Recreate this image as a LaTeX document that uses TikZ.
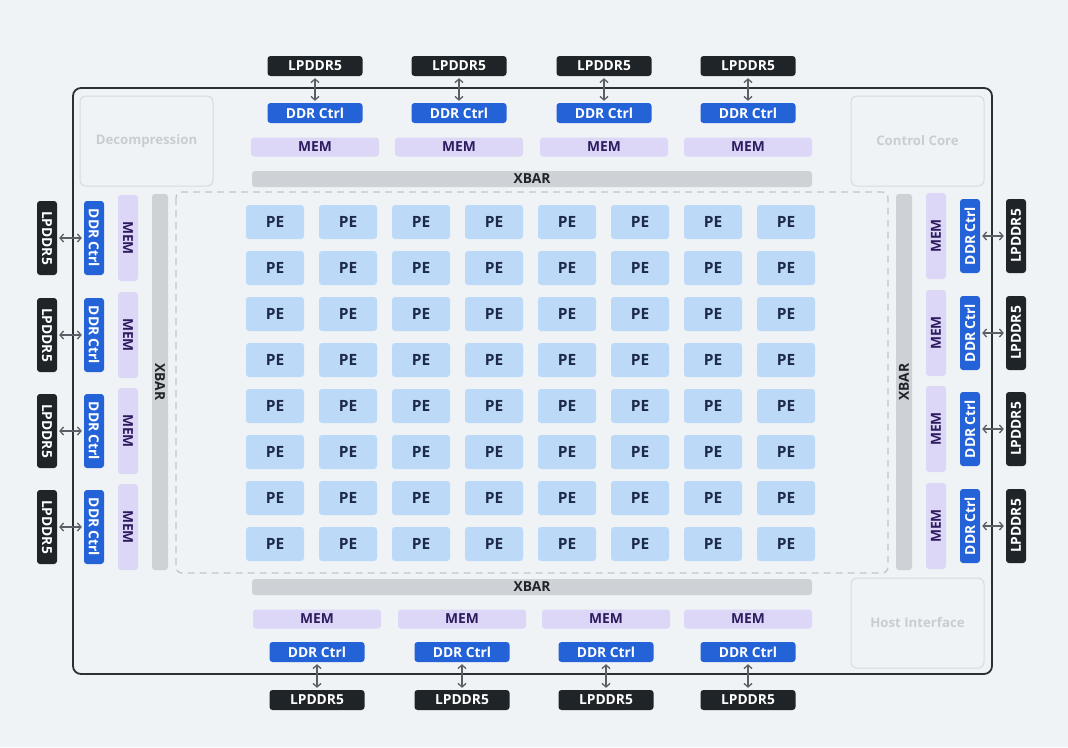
\documentclass[tikz,border=0pt]{standalone}
\usepackage{fontspec}
\setmainfont{Open Sans}
\usetikzlibrary{arrows.meta}
\definecolor{pagebg}{HTML}{F0F3F6}
\definecolor{chipline}{HTML}{2B3035}
\definecolor{lpdark}{HTML}{1F2428}
\definecolor{ddrblue}{HTML}{2462D8}
\definecolor{memfill}{HTML}{DCD7F7}
\definecolor{memtext}{HTML}{2E1A5E}
\definecolor{xbarfill}{HTML}{CED2D6}
\definecolor{pefill}{HTML}{BCDAF8}
\definecolor{petext}{HTML}{1E2A4A}
\definecolor{ghostline}{HTML}{D6DADE}
\definecolor{ghosttext}{HTML}{C9CDD2}
\definecolor{arrgray}{HTML}{5A5F66}

\begin{document}
\begin{tikzpicture}[x=1pt,y=-1pt,
  box/.style={rounded corners=3pt,inner sep=0pt,font=\fontsize{13.8}{15}\selectfont\bfseries},
  lpddr/.style={box,fill=lpdark,text=white,minimum width=95pt,minimum height=20pt},
  ddr/.style={box,fill=ddrblue,text=white,minimum width=95pt,minimum height=20pt},
  mem/.style={box,fill=memfill,text=memtext,minimum width=128pt,minimum height=19pt},
  vlpddr/.style={lpddr,minimum width=74pt},
  vddr/.style={ddr,minimum width=74pt},
  vmem/.style={mem,minimum width=86pt,minimum height=20pt},
  xbar/.style={box,fill=xbarfill,text=lpdark,minimum height=16pt},
  pe/.style={box,fill=pefill,text=petext,minimum width=58pt,minimum height=34pt,font=\fontsize{15.5}{17}\selectfont\bfseries},
  ghost/.style={draw=ghostline,line width=1pt,rounded corners=6pt,fill=pagebg,text=ghosttext,minimum width=133pt,minimum height=90pt,font=\fontsize{13.2}{15}\selectfont\bfseries},
  arr/.style={{Straight Barb[length=3.5pt,width=8pt]}-{Straight Barb[length=3.5pt,width=8pt]},line width=1.3pt,arrgray,shorten <=2pt,shorten >=2pt}
]
\fill[pagebg] (0,0) rectangle (1068,747);
\useasboundingbox (0,0) rectangle (1068,747);

% chip outline and PE region
\draw[chipline,line width=1.8pt,rounded corners=8pt] (73,88) rectangle (992,674);
\draw[ghostline!90!black,line width=1.3pt,dash pattern=on 7pt off 5pt,rounded corners=6pt] (176,192) rectangle (888,573);

\node[ghost] (decomp) at (146.5,141) {Decompression};
\node[ghost] (ctrlcore) at (917.5,141) {Control Core};
\node[ghost] (host) at (917.5,623) {Host Interface};

% crossbars
\node[xbar,minimum width=560pt] (xbar-top) at (532,179) {XBAR};
\node[xbar,minimum width=560pt] (xbar-bot) at (532,587) {XBAR};
\node[xbar,minimum width=376pt,rotate=-90] (xbar-left) at (160,382) {XBAR};
\node[xbar,minimum width=376pt,rotate=90] (xbar-right) at (904,382) {XBAR};

% top and bottom memory channels
\foreach \i/\x in {1/315,2/459,3/604,4/748}{
  \node[lpddr] (lp-t\i) at (\x,66) {LPDDR5};
  \node[ddr] (ddr-t\i) at (\x,113) {DDR Ctrl};
  \node[mem] (mem-t\i) at (\x,147) {MEM};
  \draw[arr] (lp-t\i) -- (ddr-t\i);
}
\foreach \i/\x in {1/317,2/462,3/606,4/748}{
  \node[mem] (mem-b\i) at (\x,619) {MEM};
  \node[ddr] (ddr-b\i) at (\x,652) {DDR Ctrl};
  \node[lpddr] (lp-b\i) at (\x,700) {LPDDR5};
  \draw[arr] (ddr-b\i) -- (lp-b\i);
}

% left and right memory channels
\foreach \i/\y in {1/238,2/335,3/431,4/527}{
  \node[vlpddr,rotate=-90] (lp-l\i) at (47,\y) {LPDDR5};
  \node[vddr,rotate=-90] (ddr-l\i) at (94,\y) {DDR Ctrl};
  \node[vmem,rotate=-90] (mem-l\i) at (128,\y) {MEM};
  \draw[arr] (lp-l\i) -- (ddr-l\i);
}
\foreach \i/\y in {1/236,2/333,3/429,4/526}{
  \node[vmem,rotate=90] (mem-r\i) at (936,\y) {MEM};
  \node[vddr,rotate=90] (ddr-r\i) at (970,\y) {DDR Ctrl};
  \node[vlpddr,rotate=90] (lp-r\i) at (1016,\y) {LPDDR5};
  \draw[arr] (ddr-r\i) -- (lp-r\i);
}

% PE array
\foreach \r in {0,...,7}
  \foreach \c in {0,...,7}
    \node[pe] (pe-\r-\c) at ({275+73*\c},{222+46*\r}) {PE};
\end{tikzpicture}
\end{document}
